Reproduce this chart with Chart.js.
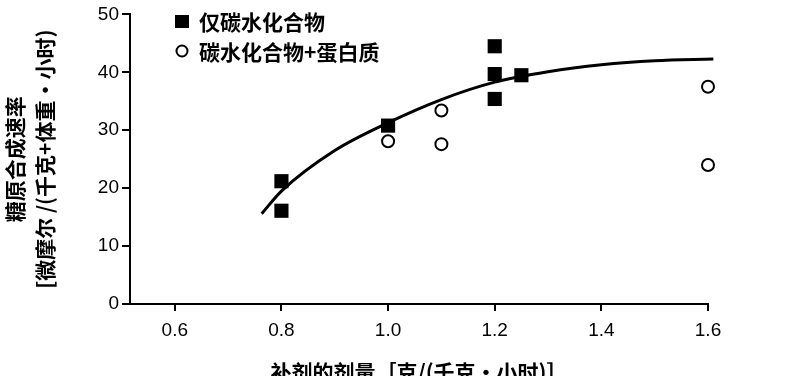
<!DOCTYPE html>
<html>
<head>
<meta charset="utf-8">
<script src="https://cdn.jsdelivr.net/npm/chart.js@4.4.0/dist/chart.umd.min.js"></script>
<style>
  html, body { margin: 0; padding: 0; background: #fff; width: 802px; height: 376px; overflow: hidden; }
</style>
</head>
<body>
<canvas id="chart" width="802" height="392"></canvas>
<script>
// values
const xTicks = [0.6, 0.8, 1.0, 1.2, 1.4, 1.6];
const yTicks = [0, 10, 20, 30, 40, 50];

const carbX = [0.8, 0.8, 1.0, 1.2, 1.2, 1.2, 1.25];
const carbY = [21.2, 16.1, 30.8, 44.5, 39.7, 35.4, 39.5];

const protX = [1.0, 1.1, 1.1, 1.6, 1.6];
const protY = [28.1, 33.4, 27.6, 37.5, 24.0];

const fitX = [0.763, 0.8, 0.9, 1.0, 1.1, 1.2, 1.3, 1.4, 1.5, 1.61];
const fitY = [15.6, 19.5, 26.5, 31.3, 35.3, 38.3, 40.1, 41.3, 42.0, 42.3];

const seriesLabels = ['仅碳水化合物', '碳水化合物+蛋白质'];
const yTitle = ['糖原合成速率', '[微摩尔 /(千克+体重·小时)'];
const xTitle = '补剂的剂量［克/(千克·小时)］';

const pts = (xs, ys) => xs.map((x, i) => ({ x: x, y: ys[i] }));

const cjk = '"Noto Sans CJK SC", "Noto Sans", sans-serif';
const num = '"Liberation Sans", Arial, sans-serif';

// legend sits inside the plot, top-left
const legendBox = {
    id: 'legendBox',
    afterDraw(chart) {
        const ctx = chart.ctx;
        ctx.save();
        ctx.fillStyle = '#000';
        ctx.strokeStyle = '#000';
        ctx.fillRect(175, 15, 14, 13);
        ctx.beginPath();
        ctx.lineWidth = 2;
        ctx.arc(182, 51, 5.5, 0, Math.PI * 2);
        ctx.stroke();
        ctx.font = 'bold 21px ' + cjk;
        ctx.textBaseline = 'middle';
        ctx.fillText(seriesLabels[0], 199, 22);
        ctx.fillText(seriesLabels[1], 199, 52);
        ctx.restore();
    }
};

new Chart(document.getElementById('chart'), {
    type: 'scatter',
    data: {
        datasets: [
            {
                label: seriesLabels[0],
                data: pts(carbX, carbY),
                pointStyle: 'rect',
                pointRadius: 10,
                pointBackgroundColor: '#000',
                pointBorderColor: '#000',
                pointBorderWidth: 0,
                clip: false
            },
            {
                label: seriesLabels[1],
                data: pts(protX, protY),
                pointStyle: 'circle',
                pointRadius: 6,
                pointBackgroundColor: '#fff',
                pointBorderColor: '#000',
                pointBorderWidth: 2,
                clip: false
            },
            {
                label: 'fit',
                data: pts(fitX, fitY),
                showLine: true,
                borderColor: '#000',
                borderWidth: 3,
                pointRadius: 0,
                tension: 0.4,
                cubicInterpolationMode: 'monotone',
                clip: false
            }
        ]
    },
    options: {
        responsive: false,
        animation: false,
        layout: { padding: { left: 0, top: 12, right: 94, bottom: 0 } },
        plugins: {
            legend: { display: false },
            tooltip: { enabled: false }
        },
        scales: {
            x: {
                type: 'linear',
                min: 0.516,
                max: 1.6,
                afterBuildTicks: s => { s.ticks = xTicks.map(v => ({ value: v })); },
                afterFit: s => { s.height = 88; },
                border: { display: true, color: '#000', width: 2 },
                grid: { drawOnChartArea: false, drawTicks: true, tickLength: 7, color: '#000', lineWidth: 2 },
                ticks: {
                    color: '#000',
                    padding: 8,
                    font: { family: num, size: 19 },
                    callback: v => v.toFixed(1)
                },
                title: {
                    display: true,
                    text: xTitle,
                    color: '#000',
                    font: { family: cjk, size: 21, weight: 'bold', lineHeight: '20px' },
                    padding: { top: 0, bottom: 10 }
                }
            },
            y: {
                min: 0,
                max: 50,
                afterBuildTicks: s => { s.ticks = yTicks.map(v => ({ value: v })); },
                afterFit: s => { s.width = 130; },
                border: { display: true, color: '#000', width: 2 },
                grid: { drawOnChartArea: false, drawTicks: true, tickLength: 8, color: '#000', lineWidth: 2 },
                ticks: {
                    color: '#000',
                    padding: 3,
                    font: { family: num, size: 19 }
                },
                title: {
                    display: true,
                    text: yTitle,
                    color: '#000',
                    font: { family: cjk, size: 21, weight: 'bold', lineHeight: '30px' },
                    padding: { top: 0, bottom: 0 }
                }
            }
        }
    },
    plugins: [legendBox]
});
</script>
</body>
</html>
